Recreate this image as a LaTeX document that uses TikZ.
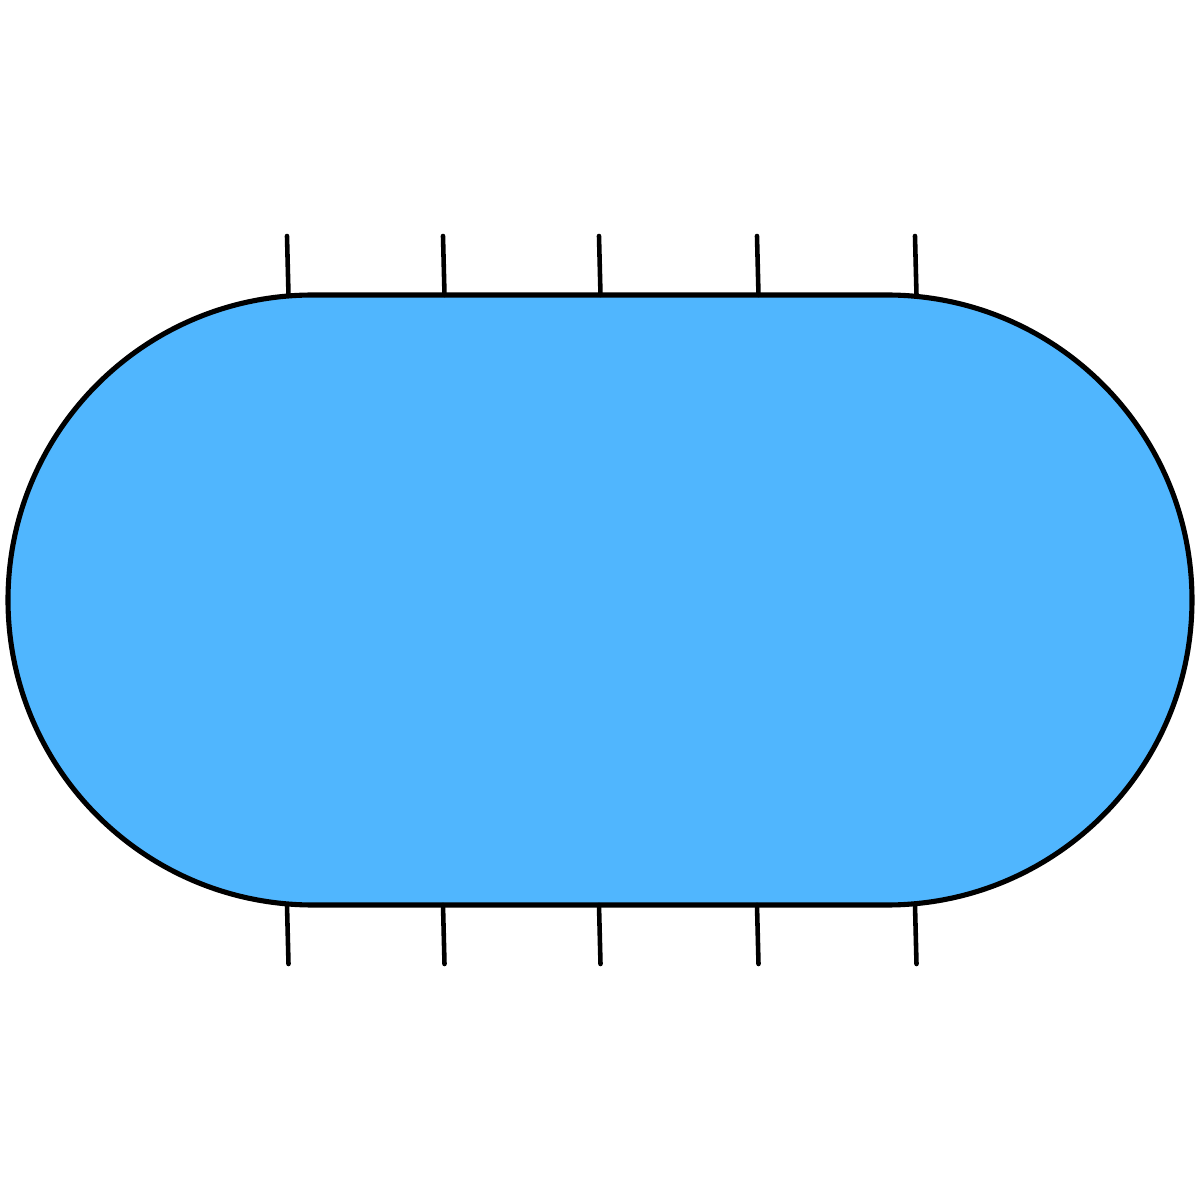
\documentclass[tikz,border=0pt]{standalone}
\definecolor{poolblue}{RGB}{80,182,254}
\tikzset{
  rim/.style={draw=black,line width=1.45pt,fill=poolblue},
  post/.style={draw=black,line width=1.3pt,line cap=round}
}
\begin{document}
\begin{tikzpicture}
\useasboundingbox (0,0) rectangle (12,12);
% pool outline
\draw[rim] (3.13,9.05) -- (8.87,9.05) arc (90:-90:3.05) -- (3.13,2.95) arc (270:90:3.05) -- cycle;
% posts along the long sides
\foreach\x in {2.87,4.43,5.99,7.57,9.15} {
  \draw[post] (\x,9.64) -- ++(0.015,-0.59);
  \draw[post] (\x,2.95) -- ++(0.015,-0.59);
}
\end{tikzpicture}
\end{document}
